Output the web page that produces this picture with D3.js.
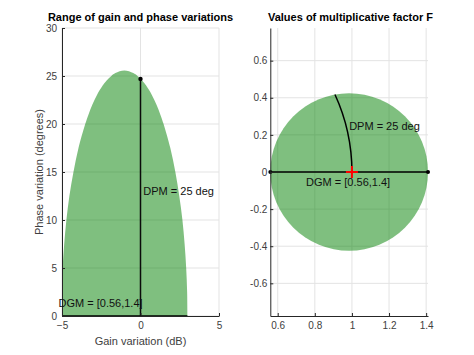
<!DOCTYPE html>
<html><head><meta charset="utf-8">
<script src="https://cdn.jsdelivr.net/npm/d3@7"></script>
<style>
html,body{margin:0;padding:0;background:#fff;}
svg{display:block;font-family:"Liberation Sans",Arial,sans-serif;}
</style></head>
<body>
<svg id="c" width="474" height="355"></svg>
<script>
// ---- data ----
const phaseDeg   = [0, 2.5, 5, 7.5, 10, 12.5, 15, 17.5, 20, 21, 22, 23, 24, 24.5, 25, 25.3, 25.56];
const gainLowDb  = [-5.04, -5.02, -4.96, -4.86, -4.72, -4.53, -4.27, -3.95, -3.52, -3.31, -3.07, -2.78, -2.41, -2.17, -1.86, -1.60, -1.03];
const gainHighDb = [2.99, 2.97, 2.91, 2.81, 2.67, 2.47, 2.22, 1.90, 1.47, 1.26, 1.02, 0.73, 0.36, 0.12, -0.19, -0.46, -1.03];
const dgm = [0.56, 1.41];          // disk gain margin ends (real axis)
const dpmDeg = 24.7;               // disk phase margin
const diskCenter = 0.985, diskRadius = 0.425;
const leftXTicks = [-5, 0, 5];
const leftYTicks = [0, 5, 10, 15, 20, 25, 30];
const rightXTicks = [0.6, 0.8, 1, 1.2, 1.4];
const rightYTicks = [-0.6, -0.4, -0.2, 0, 0.2, 0.4, 0.6];
const titles = ["Range of gain and phase variations", "Values of multiplicative factor F"];
const labels = {x: "Gain variation (dB)", y: "Phase variation (degrees)", dpm: "DPM = 25 deg", dgm: "DGM = [0.56,1.4]"};

const svg = d3.select("#c");
const gridC = "#e3e3e3", axC = "#262626", tickC = "#404040";
const fillC = "rgb(0,128,0)", fillOp = 0.5;

// ---------- LEFT ----------
const xL = d3.scaleLinear([-5, 5], [62, 219]);
const yL = d3.scaleLinear([0, 30], [316, 28]);
const gL = svg.append("g");
svg.append("defs").append("clipPath").attr("id", "clipL")
  .append("rect").attr("x", 62).attr("y", 28).attr("width", 157).attr("height", 288);

gL.append("g").selectAll("line").data(leftXTicks).join("line")
  .attr("x1", d => xL(d)).attr("x2", d => xL(d)).attr("y1", 28).attr("y2", 316)
  .attr("stroke", gridC);
gL.append("g").selectAll("line").data(leftYTicks).join("line")
  .attr("x1", 62).attr("x2", 219).attr("y1", d => yL(d)).attr("y2", d => yL(d))
  .attr("stroke", gridC);

const pts = phaseDeg.map((p, i) => [gainLowDb[i], p])
  .concat(phaseDeg.slice(0, -1).map((p, i) => [gainHighDb[i], p]).reverse());
gL.append("path")
  .attr("clip-path", "url(#clipL)")
  .attr("d", d3.line().x(d => xL(d[0])).y(d => yL(d[1])).curve(d3.curveCatmullRom)(pts) + "Z")
  .attr("fill", fillC).attr("fill-opacity", fillOp);

gL.append("line").attr("x1", xL(0)).attr("x2", xL(0)).attr("y1", yL(0)).attr("y2", yL(dpmDeg))
  .attr("stroke", "#0a0a0a").attr("stroke-width", 1.5);
gL.append("circle").attr("cx", xL(0)).attr("cy", yL(dpmDeg)).attr("r", 2.2).attr("fill", "#000");
gL.append("line").attr("x1", xL(-5)).attr("x2", xL(20 * Math.log10(dgm[1]))).attr("y1", yL(0)).attr("y2", yL(0))
  .attr("stroke", "#000").attr("stroke-width", 1.5);

const axL = gL.append("g").attr("transform", "translate(0,316)")
  .call(d3.axisBottom(xL).tickValues(leftXTicks).tickSizeInner(-3).tickSizeOuter(0).tickPadding(6));
const ayL = gL.append("g").attr("transform", "translate(62,0)")
  .call(d3.axisLeft(yL).tickValues(leftYTicks).tickSizeInner(-3).tickSizeOuter(0).tickPadding(5));
[axL, ayL].forEach(a => {
  a.select(".domain").attr("stroke", axC);
  a.selectAll(".tick line").attr("stroke", axC);
  a.selectAll("text").attr("fill", tickC).attr("font-size", 10).attr("font-family", "Liberation Sans, Arial, sans-serif");
});

gL.append("text").attr("x", xL(0.18)).attr("y", yL(13.05)).attr("dy", "0.35em")
  .attr("font-size", 11).attr("fill", "#111").text(labels.dpm);
gL.append("text").attr("x", xL(-5.22)).attr("y", yL(1.33)).attr("dy", "0.35em")
  .attr("font-size", 11).attr("fill", "#111").text(labels.dgm);

gL.append("text").attr("x", 140.5).attr("y", 21.3).attr("text-anchor", "middle")
  .attr("font-size", 11).attr("font-weight", "bold").attr("fill", "#000").text(titles[0]);
gL.append("text").attr("x", 140.5).attr("y", 344.5).attr("text-anchor", "middle")
  .attr("font-size", 11).attr("fill", tickC).text(labels.x);
gL.append("text").attr("transform", "translate(42.5,172) rotate(-90)").attr("text-anchor", "middle")
  .attr("font-size", 11).attr("fill", tickC).text(labels.y);

// ---------- RIGHT ----------
const xR = d3.scaleLinear([0.56, 1.41], [270.3, 428]);
const yR = d3.scaleLinear([-0.776, 0.776], [316, 28]);
const gR = svg.append("g");

gR.append("g").selectAll("line").data(rightXTicks).join("line")
  .attr("x1", d => xR(d)).attr("x2", d => xR(d)).attr("y1", 28).attr("y2", 316)
  .attr("stroke", gridC);
gR.append("g").selectAll("line").data(rightYTicks).join("line")
  .attr("x1", 270.3).attr("x2", 428).attr("y1", d => yR(d)).attr("y2", d => yR(d))
  .attr("stroke", gridC);

gR.append("circle").attr("cx", xR(diskCenter)).attr("cy", yR(0))
  .attr("r", xR(diskCenter + diskRadius) - xR(diskCenter))
  .attr("fill", fillC).attr("fill-opacity", fillOp);

gR.append("line").attr("x1", xR(dgm[0])).attr("x2", xR(dgm[1])).attr("y1", yR(0)).attr("y2", yR(0))
  .attr("stroke", "#000").attr("stroke-width", 1.5);
dgm.forEach(v => gR.append("circle").attr("cx", xR(v)).attr("cy", yR(0)).attr("r", 2).attr("fill", "#000"));

const rUnit = xR(1) - xR(0);
const arc = d3.path();
arc.arc(xR(0), yR(0), rUnit, 0, -dpmDeg * Math.PI / 180, true);
gR.append("path").attr("d", arc.toString()).attr("fill", "none")
  .attr("stroke", "#000").attr("stroke-width", 1.5);

gR.append("path")
  .attr("d", `M${xR(1) - 6},${yR(0)}H${xR(1) + 6}M${xR(1)},${yR(0) - 6}V${yR(0) + 6}`)
  .attr("stroke", "#ff0000").attr("stroke-width", 2);

const axR = gR.append("g").attr("transform", "translate(0,316)")
  .call(d3.axisBottom(xR).tickValues(rightXTicks).tickFormat(d3.format("")).tickSizeInner(-3).tickSizeOuter(0).tickPadding(6));
const ayR = gR.append("g").attr("transform", "translate(270.3,0)")
  .call(d3.axisLeft(yR).tickValues(rightYTicks).tickFormat(d => d === 0 ? "0" : d3.format(".1f")(d).replace("−", "-")).tickSizeInner(-3).tickSizeOuter(0).tickPadding(3));
[axR, ayR].forEach(a => {
  a.select(".domain").attr("stroke", axC);
  a.selectAll(".tick line").attr("stroke", axC);
  a.selectAll("text").attr("fill", tickC).attr("font-size", 10).attr("font-family", "Liberation Sans, Arial, sans-serif");
});

gR.append("text").attr("x", xR(0.985)).attr("y", yR(0.246)).attr("dy", "0.35em")
  .attr("font-size", 11).attr("fill", "#111").text(labels.dpm);
gR.append("text").attr("x", xR(0.753)).attr("y", yR(-0.057)).attr("dy", "0.35em")
  .attr("font-size", 11).attr("fill", "#111").text(labels.dgm);

gR.append("text").attr("x", 350.5).attr("y", 21.3).attr("text-anchor", "middle")
  .attr("font-size", 11).attr("font-weight", "bold").attr("fill", "#000").text(titles[1]);
</script>
</body></html>
